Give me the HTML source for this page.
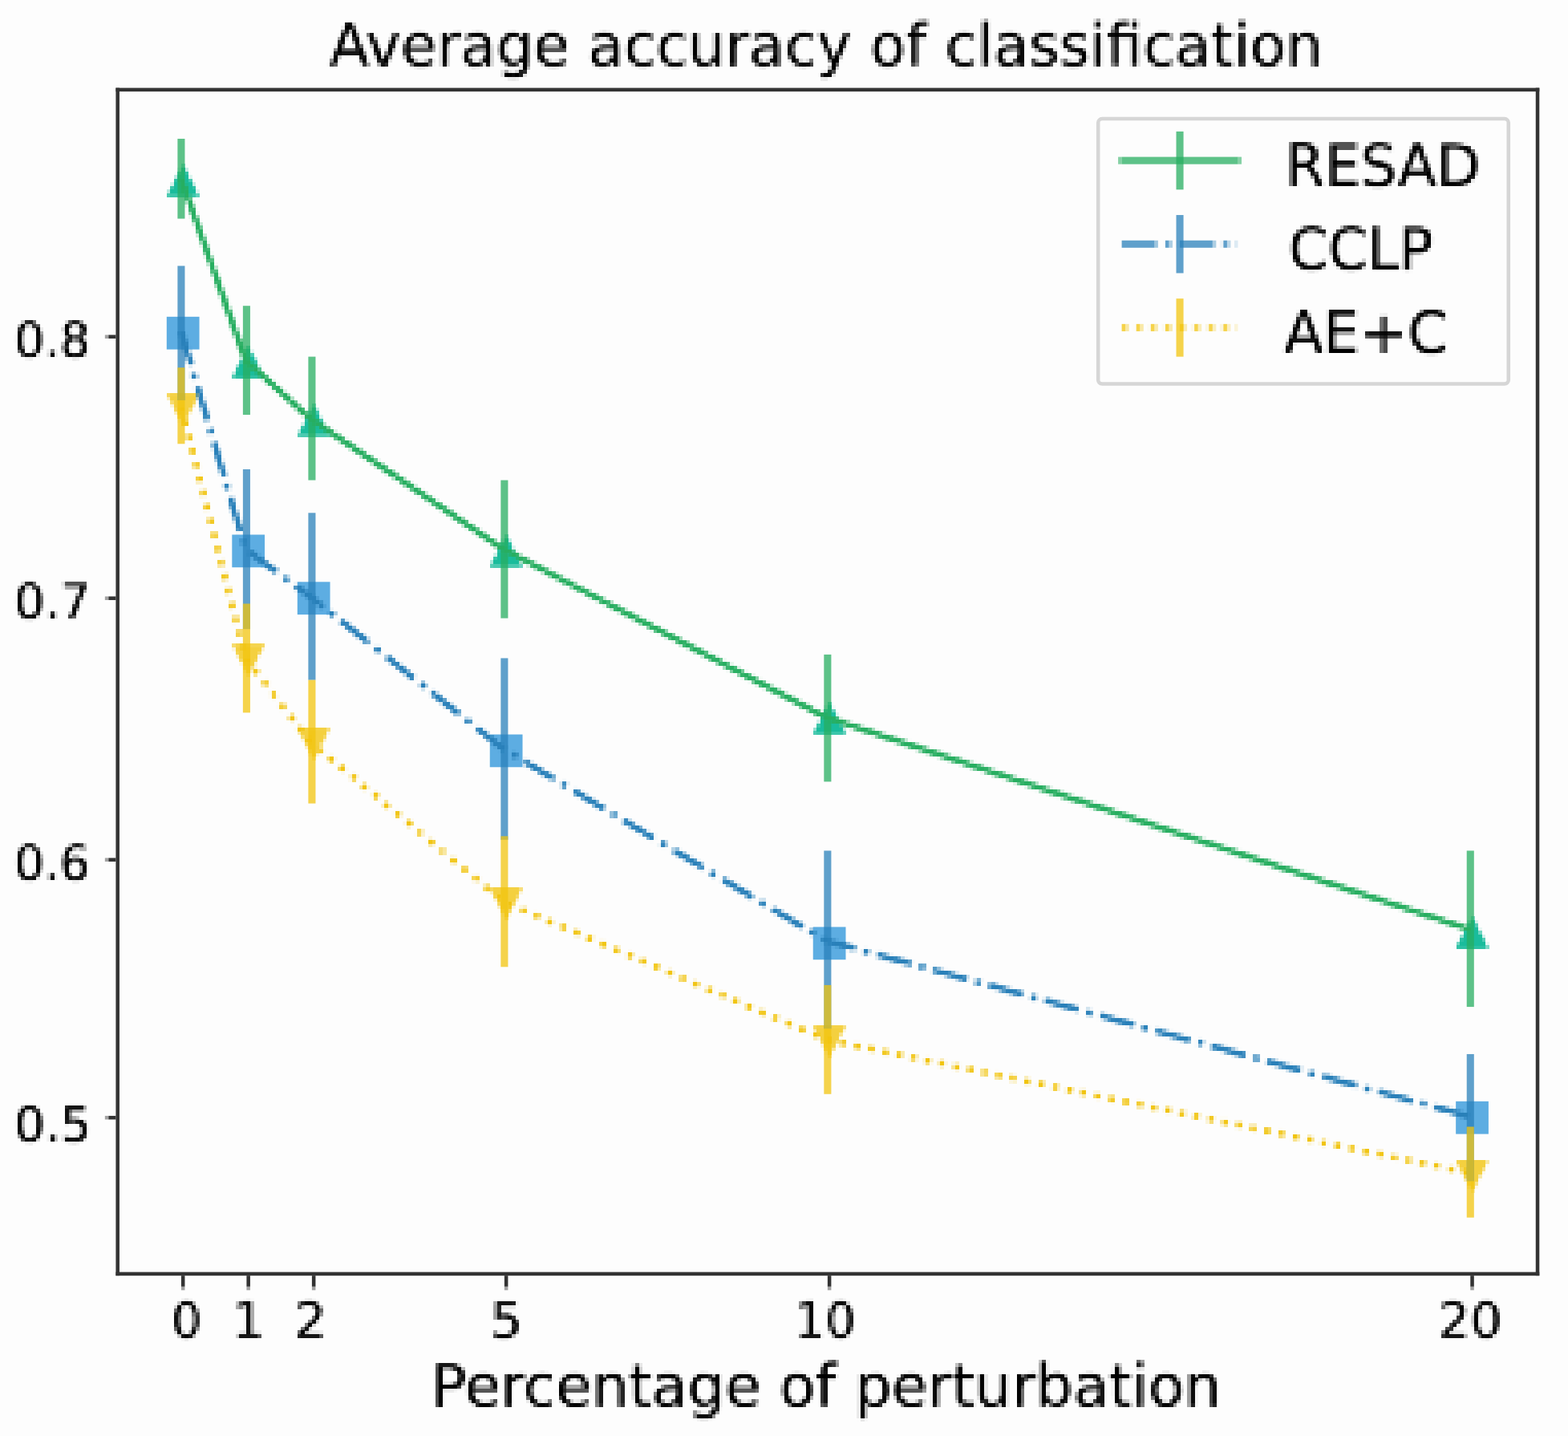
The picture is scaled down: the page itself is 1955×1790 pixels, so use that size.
<!DOCTYPE html>
<html lang="en"><head><meta charset="utf-8"><title>Average accuracy of classification</title>
<style>
html,body{margin:0;padding:0;background:#fdfdfd;}
body{width:1955px;height:1790px;overflow:hidden;}
svg{display:block;}
text{font-family:"DejaVu Sans","Liberation Sans",sans-serif;fill:#000;}
.tk{font-size:60.5px;}
.big{font-size:73px;}
.lg{font-size:73px;}
</style></head><body>
<svg width="1955" height="1790" viewBox="0 0 1955 1790" role="img" aria-label="Average accuracy of classification versus percentage of perturbation for RESAD, CCLP and AE+C">
<defs>
<filter id="fa" filterUnits="userSpaceOnUse" x="0" y="0" width="1955" height="1790" color-interpolation-filters="sRGB"><feGaussianBlur stdDeviation="0.6"/></filter>
<filter id="fp" filterUnits="userSpaceOnUse" x="0" y="0" width="1955" height="1790" color-interpolation-filters="sRGB">
<feGaussianBlur in="SourceGraphic" stdDeviation="1.2" result="b"/>
<feFlood x="1" y="0" width="1" height="77" flood-color="#000" result="v0"/>
<feFlood x="6" y="0" width="1" height="77" flood-color="#000" result="v1"/>
<feFlood x="10" y="0" width="1" height="77" flood-color="#000" result="v2"/>
<feFlood x="15" y="0" width="1" height="77" flood-color="#000" result="v3"/>
<feFlood x="19" y="0" width="1" height="77" flood-color="#000" result="v4"/>
<feFlood x="24" y="0" width="1" height="77" flood-color="#000" result="v5"/>
<feFlood x="28" y="0" width="1" height="77" flood-color="#000" result="v6"/>
<feFlood x="33" y="0" width="1" height="77" flood-color="#000" result="v7"/>
<feFlood x="38" y="0" width="1" height="77" flood-color="#000" result="v8"/>
<feFlood x="42" y="0" width="1" height="77" flood-color="#000" result="v9"/>
<feFlood x="47" y="0" width="1" height="77" flood-color="#000" result="v10"/>
<feFlood x="51" y="0" width="1" height="77" flood-color="#000" result="v11"/>
<feFlood x="56" y="0" width="1" height="77" flood-color="#000" result="v12"/>
<feFlood x="60" y="0" width="1" height="77" flood-color="#000" result="v13"/>
<feFlood x="65" y="0" width="1" height="77" flood-color="#000" result="v14"/>
<feFlood x="69" y="0" width="1" height="77" flood-color="#000" result="v15"/>
<feFlood x="74" y="0" width="1" height="77" flood-color="#000" result="v16"/>
<feMerge x="0" y="0" width="77" height="77" result="v"><feMergeNode in="v0"/><feMergeNode in="v1"/><feMergeNode in="v2"/><feMergeNode in="v3"/><feMergeNode in="v4"/><feMergeNode in="v5"/><feMergeNode in="v6"/><feMergeNode in="v7"/><feMergeNode in="v8"/><feMergeNode in="v9"/><feMergeNode in="v10"/><feMergeNode in="v11"/><feMergeNode in="v12"/><feMergeNode in="v13"/><feMergeNode in="v14"/><feMergeNode in="v15"/><feMergeNode in="v16"/></feMerge>
<feFlood x="0" y="3" width="77" height="1" flood-color="#000" result="h0"/>
<feFlood x="0" y="7" width="77" height="1" flood-color="#000" result="h1"/>
<feFlood x="0" y="12" width="77" height="1" flood-color="#000" result="h2"/>
<feFlood x="0" y="16" width="77" height="1" flood-color="#000" result="h3"/>
<feFlood x="0" y="21" width="77" height="1" flood-color="#000" result="h4"/>
<feFlood x="0" y="25" width="77" height="1" flood-color="#000" result="h5"/>
<feFlood x="0" y="30" width="77" height="1" flood-color="#000" result="h6"/>
<feFlood x="0" y="34" width="77" height="1" flood-color="#000" result="h7"/>
<feFlood x="0" y="39" width="77" height="1" flood-color="#000" result="h8"/>
<feFlood x="0" y="43" width="77" height="1" flood-color="#000" result="h9"/>
<feFlood x="0" y="48" width="77" height="1" flood-color="#000" result="h10"/>
<feFlood x="0" y="52" width="77" height="1" flood-color="#000" result="h11"/>
<feFlood x="0" y="57" width="77" height="1" flood-color="#000" result="h12"/>
<feFlood x="0" y="62" width="77" height="1" flood-color="#000" result="h13"/>
<feFlood x="0" y="66" width="77" height="1" flood-color="#000" result="h14"/>
<feFlood x="0" y="71" width="77" height="1" flood-color="#000" result="h15"/>
<feFlood x="0" y="75" width="77" height="1" flood-color="#000" result="h16"/>
<feMerge x="0" y="0" width="77" height="77" result="h"><feMergeNode in="h0"/><feMergeNode in="h1"/><feMergeNode in="h2"/><feMergeNode in="h3"/><feMergeNode in="h4"/><feMergeNode in="h5"/><feMergeNode in="h6"/><feMergeNode in="h7"/><feMergeNode in="h8"/><feMergeNode in="h9"/><feMergeNode in="h10"/><feMergeNode in="h11"/><feMergeNode in="h12"/><feMergeNode in="h13"/><feMergeNode in="h14"/><feMergeNode in="h15"/><feMergeNode in="h16"/></feMerge>
<feComposite in="v" in2="h" operator="in" x="0" y="0" width="77" height="77" result="cell"/>
<feTile in="cell" x="0" y="0" width="1955" height="1790" result="grid"/>
<feComposite in="b" in2="grid" operator="in" result="s"/>
<feMorphology in="s" operator="dilate" radius="2" result="d"/>
<feGaussianBlur in="d" stdDeviation="0.6"/>
</filter>
<filter id="ft" filterUnits="userSpaceOnUse" x="0" y="0" width="1955" height="1790" color-interpolation-filters="sRGB">
<feGaussianBlur in="SourceGraphic" stdDeviation="0.9" result="b"/>
<feFlood x="1" y="0" width="1" height="77" flood-color="#000" result="v0"/>
<feFlood x="6" y="0" width="1" height="77" flood-color="#000" result="v1"/>
<feFlood x="10" y="0" width="1" height="77" flood-color="#000" result="v2"/>
<feFlood x="15" y="0" width="1" height="77" flood-color="#000" result="v3"/>
<feFlood x="19" y="0" width="1" height="77" flood-color="#000" result="v4"/>
<feFlood x="24" y="0" width="1" height="77" flood-color="#000" result="v5"/>
<feFlood x="28" y="0" width="1" height="77" flood-color="#000" result="v6"/>
<feFlood x="33" y="0" width="1" height="77" flood-color="#000" result="v7"/>
<feFlood x="38" y="0" width="1" height="77" flood-color="#000" result="v8"/>
<feFlood x="42" y="0" width="1" height="77" flood-color="#000" result="v9"/>
<feFlood x="47" y="0" width="1" height="77" flood-color="#000" result="v10"/>
<feFlood x="51" y="0" width="1" height="77" flood-color="#000" result="v11"/>
<feFlood x="56" y="0" width="1" height="77" flood-color="#000" result="v12"/>
<feFlood x="60" y="0" width="1" height="77" flood-color="#000" result="v13"/>
<feFlood x="65" y="0" width="1" height="77" flood-color="#000" result="v14"/>
<feFlood x="69" y="0" width="1" height="77" flood-color="#000" result="v15"/>
<feFlood x="74" y="0" width="1" height="77" flood-color="#000" result="v16"/>
<feMerge x="0" y="0" width="77" height="77" result="v"><feMergeNode in="v0"/><feMergeNode in="v1"/><feMergeNode in="v2"/><feMergeNode in="v3"/><feMergeNode in="v4"/><feMergeNode in="v5"/><feMergeNode in="v6"/><feMergeNode in="v7"/><feMergeNode in="v8"/><feMergeNode in="v9"/><feMergeNode in="v10"/><feMergeNode in="v11"/><feMergeNode in="v12"/><feMergeNode in="v13"/><feMergeNode in="v14"/><feMergeNode in="v15"/><feMergeNode in="v16"/></feMerge>
<feFlood x="0" y="3" width="77" height="1" flood-color="#000" result="h0"/>
<feFlood x="0" y="7" width="77" height="1" flood-color="#000" result="h1"/>
<feFlood x="0" y="12" width="77" height="1" flood-color="#000" result="h2"/>
<feFlood x="0" y="16" width="77" height="1" flood-color="#000" result="h3"/>
<feFlood x="0" y="21" width="77" height="1" flood-color="#000" result="h4"/>
<feFlood x="0" y="25" width="77" height="1" flood-color="#000" result="h5"/>
<feFlood x="0" y="30" width="77" height="1" flood-color="#000" result="h6"/>
<feFlood x="0" y="34" width="77" height="1" flood-color="#000" result="h7"/>
<feFlood x="0" y="39" width="77" height="1" flood-color="#000" result="h8"/>
<feFlood x="0" y="43" width="77" height="1" flood-color="#000" result="h9"/>
<feFlood x="0" y="48" width="77" height="1" flood-color="#000" result="h10"/>
<feFlood x="0" y="52" width="77" height="1" flood-color="#000" result="h11"/>
<feFlood x="0" y="57" width="77" height="1" flood-color="#000" result="h12"/>
<feFlood x="0" y="62" width="77" height="1" flood-color="#000" result="h13"/>
<feFlood x="0" y="66" width="77" height="1" flood-color="#000" result="h14"/>
<feFlood x="0" y="71" width="77" height="1" flood-color="#000" result="h15"/>
<feFlood x="0" y="75" width="77" height="1" flood-color="#000" result="h16"/>
<feMerge x="0" y="0" width="77" height="77" result="h"><feMergeNode in="h0"/><feMergeNode in="h1"/><feMergeNode in="h2"/><feMergeNode in="h3"/><feMergeNode in="h4"/><feMergeNode in="h5"/><feMergeNode in="h6"/><feMergeNode in="h7"/><feMergeNode in="h8"/><feMergeNode in="h9"/><feMergeNode in="h10"/><feMergeNode in="h11"/><feMergeNode in="h12"/><feMergeNode in="h13"/><feMergeNode in="h14"/><feMergeNode in="h15"/><feMergeNode in="h16"/></feMerge>
<feComposite in="v" in2="h" operator="in" x="0" y="0" width="77" height="77" result="cell"/>
<feTile in="cell" x="0" y="0" width="1955" height="1790" result="grid"/>
<feComposite in="b" in2="grid" operator="in" result="s"/>
<feMorphology in="s" operator="dilate" radius="2" result="d"/>
<feGaussianBlur in="d" stdDeviation="0.6"/>
</filter>
</defs>
<rect x="0" y="0" width="1955" height="1790" fill="#fdfdfd"/>
<g id="squares" filter="url(#fa)">
<rect x="207.8" y="394.82" width="40.75" height="40.75" fill="#5dade2"/>
<rect x="289.3" y="666.48" width="40.75" height="40.75" fill="#5dade2"/>
<rect x="370.8" y="725.34" width="40.75" height="40.75" fill="#5dade2"/>
<rect x="610.77" y="915.51" width="40.75" height="40.75" fill="#5dade2"/>
<rect x="1013.74" y="1155.48" width="40.75" height="40.75" fill="#5dade2"/>
<rect x="1815.16" y="1372.82" width="40.75" height="40.75" fill="#5dade2"/>
</g>
<g id="diag" filter="url(#fp)"><g transform="translate(-0.48 0.9) scale(4.52778)">
<polygon points="50.5,45 54.95,53.85 46.05,53.85" fill="#1abc9c"/>
<polygon points="68.5,95 72.95,103.85 64.05,103.85" fill="#1abc9c"/>
<polygon points="86.5,111 90.95,119.85 82.05,119.85" fill="#1abc9c"/>
<polygon points="139.5,147 143.95,155.85 135.05,155.85" fill="#1abc9c"/>
<polygon points="228.5,193 232.95,201.85 224.05,201.85" fill="#1abc9c"/>
<polygon points="405.5,252 409.95,260.85 401.05,260.85" fill="#1abc9c"/>
<polygon points="50.5,117 54.95,108.15 46.05,108.15" fill="#f4d03f"/>
<polygon points="68.5,186 72.95,177.15 64.05,177.15" fill="#f4d03f"/>
<polygon points="86.5,209 90.95,200.15 82.05,200.15" fill="#f4d03f"/>
<polygon points="139.5,253 143.95,244.15 135.05,244.15" fill="#f4d03f"/>
<polygon points="228.5,291 232.95,282.15 224.05,282.15" fill="#f4d03f"/>
<polygon points="405.5,328 409.95,319.15 401.05,319.15" fill="#f4d03f"/>
<polyline points="50,49 67.75,99 85.5,115 138.75,151 227.5,197.25 405,255.75" fill="none" stroke="#27ae60" stroke-width="1.5" stroke-linejoin="round"/>
<polyline points="50,91.1 67.75,151 85.5,164 138.75,206 227.5,258.75 405,307.25" fill="none" stroke="#2980b9" stroke-width="1.5" stroke-linejoin="round" stroke-dasharray="9.6 2.4 1.5 2.4"/>
<polyline points="50,111.75 67.75,181 85.5,204 138.75,248 227.5,286 405,322.75" fill="none" stroke="#f1c40f" stroke-width="1.5" stroke-linejoin="round" stroke-dasharray="1.5 2.475"/>
</g></g>
<g id="errorbars" filter="url(#fa)">
<rect x="221.38" y="172.96" width="9.06" height="99.61" fill="#27ae60" fill-opacity="0.75"/>
<rect x="302.88" y="381.23" width="9.06" height="135.83" fill="#27ae60" fill-opacity="0.75"/>
<rect x="384.38" y="444.62" width="9.06" height="153.94" fill="#27ae60" fill-opacity="0.75"/>
<rect x="624.35" y="598.57" width="9.06" height="172.06" fill="#27ae60" fill-opacity="0.75"/>
<rect x="1027.33" y="815.9" width="9.06" height="158.47" fill="#27ae60" fill-opacity="0.75"/>
<rect x="1828.74" y="1060.4" width="9.06" height="194.69" fill="#27ae60" fill-opacity="0.75"/>
<rect x="221.38" y="331.43" width="9.06" height="167.53" fill="#2980b9" fill-opacity="0.75"/>
<rect x="302.88" y="584.98" width="9.06" height="199.22" fill="#2980b9" fill-opacity="0.75"/>
<rect x="384.38" y="639.32" width="9.06" height="208.28" fill="#2980b9" fill-opacity="0.75"/>
<rect x="624.35" y="820.43" width="9.06" height="226.39" fill="#2980b9" fill-opacity="0.75"/>
<rect x="1027.33" y="1060.4" width="9.06" height="221.86" fill="#2980b9" fill-opacity="0.75"/>
<rect x="1828.74" y="1313.96" width="9.06" height="158.47" fill="#2980b9" fill-opacity="0.75"/>
<rect x="221.38" y="458.21" width="9.06" height="95.08" fill="#f1c40f" fill-opacity="0.75"/>
<rect x="302.88" y="752.51" width="9.06" height="135.83" fill="#f1c40f" fill-opacity="0.75"/>
<rect x="384.38" y="847.59" width="9.06" height="153.94" fill="#f1c40f" fill-opacity="0.75"/>
<rect x="624.35" y="1042.29" width="9.06" height="163" fill="#f1c40f" fill-opacity="0.75"/>
<rect x="1027.33" y="1227.93" width="9.06" height="135.83" fill="#f1c40f" fill-opacity="0.75"/>
<rect x="1828.74" y="1404.51" width="9.06" height="113.19" fill="#f1c40f" fill-opacity="0.75"/>
</g>
<g id="legend">
<rect x="1369.17" y="148.05" width="511.64" height="330.53" rx="5" ry="5" fill="#fdfdfd" fill-opacity="0.8" stroke="#cccccc" stroke-opacity="0.8" stroke-width="4.53" filter="url(#fa)"/>
<g id="legendlines" filter="url(#fa)">
<rect x="1394.08" y="195.59" width="4.53" height="9.06" fill="#27ae60" fill-opacity="0.56"/>
<rect x="1398.6" y="195.59" width="144.89" height="9.06" fill="#27ae60" fill-opacity="0.75"/>
<rect x="1543.49" y="195.59" width="4.53" height="9.06" fill="#27ae60" fill-opacity="0.56"/>
<rect x="1398.6" y="299.73" width="40.75" height="9.06" fill="#2980b9" fill-opacity="0.75"/>
<rect x="1439.35" y="299.73" width="4.53" height="9.06" fill="#2980b9" fill-opacity="0.45"/>
<rect x="1452.94" y="299.73" width="4.53" height="9.06" fill="#2980b9" fill-opacity="0.75"/>
<rect x="1457.46" y="299.73" width="4.53" height="9.06" fill="#2980b9" fill-opacity="0.38"/>
<rect x="1466.52" y="299.73" width="4.53" height="9.06" fill="#2980b9" fill-opacity="0.08"/>
<rect x="1471.05" y="299.73" width="40.75" height="9.06" fill="#2980b9" fill-opacity="0.75"/>
<rect x="1511.8" y="299.73" width="4.53" height="9.06" fill="#2980b9" fill-opacity="0.38"/>
<rect x="1520.85" y="299.73" width="4.53" height="9.06" fill="#2980b9" fill-opacity="0.08"/>
<rect x="1525.38" y="299.73" width="4.53" height="9.06" fill="#2980b9" fill-opacity="0.75"/>
<rect x="1529.91" y="299.73" width="4.53" height="9.06" fill="#2980b9" fill-opacity="0.3"/>
<rect x="1538.96" y="299.73" width="4.53" height="9.06" fill="#2980b9" fill-opacity="0.15"/>
<rect x="1398.6" y="403.87" width="4.53" height="9.06" fill="#f1c40f" fill-opacity="0.75"/>
<rect x="1403.13" y="403.87" width="4.53" height="9.06" fill="#f1c40f" fill-opacity="0.38"/>
<rect x="1412.19" y="403.87" width="4.53" height="9.06" fill="#f1c40f" fill-opacity="0.02"/>
<rect x="1416.71" y="403.87" width="4.53" height="9.06" fill="#f1c40f" fill-opacity="0.75"/>
<rect x="1421.24" y="403.87" width="4.53" height="9.06" fill="#f1c40f" fill-opacity="0.36"/>
<rect x="1430.3" y="403.87" width="4.53" height="9.06" fill="#f1c40f" fill-opacity="0.04"/>
<rect x="1434.83" y="403.87" width="4.53" height="9.06" fill="#f1c40f" fill-opacity="0.75"/>
<rect x="1439.35" y="403.87" width="4.53" height="9.06" fill="#f1c40f" fill-opacity="0.34"/>
<rect x="1448.41" y="403.87" width="4.53" height="9.06" fill="#f1c40f" fill-opacity="0.06"/>
<rect x="1452.94" y="403.87" width="4.53" height="9.06" fill="#f1c40f" fill-opacity="0.75"/>
<rect x="1457.46" y="403.87" width="4.53" height="9.06" fill="#f1c40f" fill-opacity="0.32"/>
<rect x="1466.52" y="403.87" width="4.53" height="9.06" fill="#f1c40f" fill-opacity="0.07"/>
<rect x="1471.05" y="403.87" width="4.53" height="9.06" fill="#f1c40f" fill-opacity="0.75"/>
<rect x="1475.58" y="403.87" width="4.53" height="9.06" fill="#f1c40f" fill-opacity="0.3"/>
<rect x="1484.63" y="403.87" width="4.53" height="9.06" fill="#f1c40f" fill-opacity="0.09"/>
<rect x="1489.16" y="403.87" width="4.53" height="9.06" fill="#f1c40f" fill-opacity="0.75"/>
<rect x="1493.69" y="403.87" width="4.53" height="9.06" fill="#f1c40f" fill-opacity="0.28"/>
<rect x="1502.74" y="403.87" width="4.53" height="9.06" fill="#f1c40f" fill-opacity="0.11"/>
<rect x="1507.27" y="403.87" width="4.53" height="9.06" fill="#f1c40f" fill-opacity="0.75"/>
<rect x="1511.8" y="403.87" width="4.53" height="9.06" fill="#f1c40f" fill-opacity="0.26"/>
<rect x="1520.85" y="403.87" width="4.53" height="9.06" fill="#f1c40f" fill-opacity="0.13"/>
<rect x="1525.38" y="403.87" width="4.53" height="9.06" fill="#f1c40f" fill-opacity="0.75"/>
<rect x="1529.91" y="403.87" width="4.53" height="9.06" fill="#f1c40f" fill-opacity="0.24"/>
<rect x="1538.96" y="403.87" width="4.53" height="9.06" fill="#f1c40f" fill-opacity="0.15"/>
</g>
<g filter="url(#fa)">
<rect x="1466.52" y="163.9" width="9.06" height="72.44" fill="#27ae60" fill-opacity="0.75"/>
<rect x="1466.52" y="268.04" width="9.06" height="72.44" fill="#2980b9" fill-opacity="0.75"/>
<rect x="1466.52" y="372.18" width="9.06" height="72.44" fill="#f1c40f" fill-opacity="0.75"/>
</g>
</g>
<g id="axes" filter="url(#fa)">
<rect x="144.41" y="109.57" width="4.53" height="1480.58" fill="#333333"/>
<rect x="1914.77" y="109.57" width="4.53" height="1480.58" fill="#333333"/>
<rect x="144.41" y="109.57" width="1774.89" height="4.53" fill="#333333"/>
<rect x="144.41" y="1585.62" width="1774.89" height="4.53" fill="#333333"/>
<rect x="225.91" y="1590.15" width="4.53" height="13.58" fill="#333333"/>
<rect x="225.91" y="1603.73" width="4.53" height="4.53" fill="#333333" fill-opacity="0.45"/>
<rect x="307.41" y="1590.15" width="4.53" height="13.58" fill="#333333"/>
<rect x="307.41" y="1603.73" width="4.53" height="4.53" fill="#333333" fill-opacity="0.45"/>
<rect x="388.91" y="1590.15" width="4.53" height="13.58" fill="#333333"/>
<rect x="388.91" y="1603.73" width="4.53" height="4.53" fill="#333333" fill-opacity="0.45"/>
<rect x="628.88" y="1590.15" width="4.53" height="13.58" fill="#333333"/>
<rect x="628.88" y="1603.73" width="4.53" height="4.53" fill="#333333" fill-opacity="0.45"/>
<rect x="1031.85" y="1590.15" width="4.53" height="13.58" fill="#333333"/>
<rect x="1031.85" y="1603.73" width="4.53" height="4.53" fill="#333333" fill-opacity="0.45"/>
<rect x="1833.27" y="1590.15" width="4.53" height="13.58" fill="#333333"/>
<rect x="1833.27" y="1603.73" width="4.53" height="4.53" fill="#333333" fill-opacity="0.45"/>
<rect x="135.35" y="417.46" width="9.06" height="4.53" fill="#333333"/>
<rect x="130.83" y="417.46" width="4.53" height="4.53" fill="#333333" fill-opacity="0.45"/>
<rect x="135.35" y="743.46" width="9.06" height="4.53" fill="#333333"/>
<rect x="130.83" y="743.46" width="4.53" height="4.53" fill="#333333" fill-opacity="0.45"/>
<rect x="135.35" y="1069.46" width="9.06" height="4.53" fill="#333333"/>
<rect x="130.83" y="1069.46" width="4.53" height="4.53" fill="#333333" fill-opacity="0.45"/>
<rect x="135.35" y="1390.93" width="9.06" height="4.53" fill="#333333"/>
<rect x="130.83" y="1390.93" width="4.53" height="4.53" fill="#333333" fill-opacity="0.45"/>
</g>
<g id="text" filter="url(#ft)">
<text class="tk" x="17.73" y="445" textLength="94.66" lengthAdjust="spacingAndGlyphs">0.8</text>
<text class="tk" x="17.7" y="771" textLength="95.32" lengthAdjust="spacingAndGlyphs">0.7</text>
<text class="tk" x="17.76" y="1097" textLength="94.01" lengthAdjust="spacingAndGlyphs">0.6</text>
<text class="tk" x="17.68" y="1423" textLength="95.99" lengthAdjust="spacingAndGlyphs">0.5</text>
<text class="tk" x="213.63" y="1667" textLength="37.92" lengthAdjust="spacingAndGlyphs">0</text>
<text class="tk" x="289.47" y="1667" textLength="40.69" lengthAdjust="spacingAndGlyphs">1</text>
<text class="tk" x="367.13" y="1667" textLength="40.61" lengthAdjust="spacingAndGlyphs">2</text>
<text class="tk" x="611.09" y="1667" textLength="40.61" lengthAdjust="spacingAndGlyphs">5</text>
<text class="tk" x="990.93" y="1667" textLength="76" lengthAdjust="spacingAndGlyphs">10</text>
<text class="tk" x="1793.63" y="1667" textLength="79.5" lengthAdjust="spacingAndGlyphs">20</text>
<text class="lg" x="1602.62" y="232" textLength="243.01" lengthAdjust="spacingAndGlyphs">RESAD</text>
<text class="lg" x="1606.46" y="336" textLength="180.53" lengthAdjust="spacingAndGlyphs">CCLP</text>
<text class="lg" x="1601.08" y="440" textLength="204.05" lengthAdjust="spacingAndGlyphs">AE+C</text>
<text class="big" x="410.87" y="82" textLength="1238.34" lengthAdjust="spacingAndGlyphs">Average accuracy of classification</text>
<text class="big" x="537.8" y="1753" textLength="984.81" lengthAdjust="spacingAndGlyphs">Percentage of perturbation</text>
</g>
</svg>
</body></html>
